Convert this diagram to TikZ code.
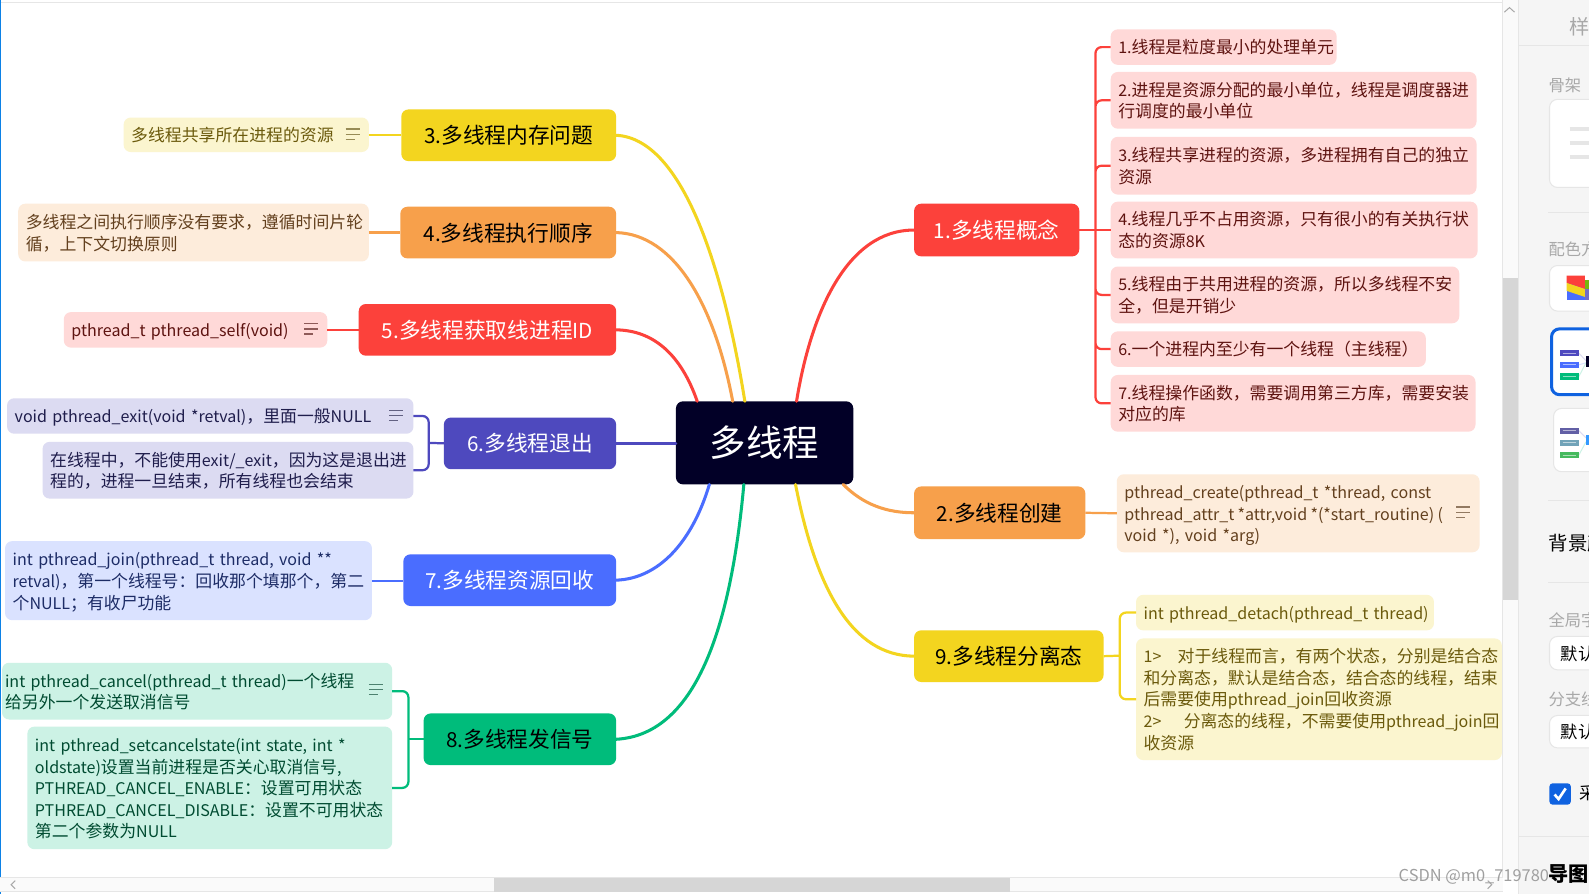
\documentclass[tikz,border=0pt]{standalone}
\usepackage{fontspec}
\setmainfont{Noto Sans CJK SC}
\newfontfamily\cjkf[Scale=1.05]{Noto Sans CJK SC}
% Chinese runs are set 5 percent larger than Latin runs, as in the reference
\XeTeXinterchartokenstate=1
\newXeTeXintercharclass\cjkclass
\newcount\cjkloop
\cjkloop="3000 \loop \XeTeXcharclass\cjkloop=\cjkclass \advance\cjkloop 1 \ifnum\cjkloop<"3040 \repeat
\cjkloop="4E00 \loop \XeTeXcharclass\cjkloop=\cjkclass \advance\cjkloop 1 \ifnum\cjkloop<"A000 \repeat
\cjkloop="FF00 \loop \XeTeXcharclass\cjkloop=\cjkclass \advance\cjkloop 1 \ifnum\cjkloop<"FF61 \repeat
\XeTeXinterchartoks 0 \cjkclass = {\cjkf}
\XeTeXinterchartoks \cjkclass 0 = {\rmfamily}
\XeTeXinterchartoks 4095 \cjkclass = {\cjkf}
\XeTeXinterchartoks 4095 0 = {\rmfamily}
\definecolor{rootc}{HTML}{020027}
\definecolor{redc}{HTML}{FC413B}
\definecolor{orac}{HTML}{F7A04B}
\definecolor{yelc}{HTML}{F3D51F}
\definecolor{purc}{HTML}{4E49BE}
\definecolor{bluc}{HTML}{4A6DFF}
\definecolor{grec}{HTML}{00BC7B}
\definecolor{redl}{HTML}{FFD9D8}
\definecolor{oral}{HTML}{FDECDB}
\definecolor{yell}{HTML}{FBF5CF}
\definecolor{purl}{HTML}{DCDBF2}
\definecolor{blul}{HTML}{DAE2FF}
\definecolor{grel}{HTML}{CCF2E5}
\definecolor{redt}{HTML}{5E1310}
\definecolor{orat}{HTML}{63401E}
\definecolor{yelt}{HTML}{6B5A0C}
\definecolor{purt}{HTML}{1F1D4C}
\definecolor{blut}{HTML}{1D2C66}
\definecolor{gret}{HTML}{004B31}
\definecolor{sideg}{HTML}{F5F5F5}
\definecolor{thumb}{HTML}{D6D6D6}
\definecolor{trackc}{HTML}{FAFAFA}
\definecolor{lineg}{HTML}{E6E6E6}
\definecolor{sidet}{HTML}{A8A8A8}
\definecolor{chkb}{HTML}{0F62E0}
\tikzset{
  anybox/.style={rounded corners=7pt,inner xsep=7.5pt,inner ysep=0pt,outer sep=0pt,align=left},
  leaf/.style={anybox,font=\fontsize{15.85}{21.3}\selectfont,
    execute at begin node={\rule{0pt}{17.3pt}},execute at end node={\rule[-4pt]{0pt}{4pt}}},
  head/.style={anybox,align=center,font=\fontsize{20.4}{26}\selectfont,
    execute at begin node={\rule{0pt}{21pt}},execute at end node={\rule[-4pt]{0pt}{4pt}}},
  rootbox/.style={anybox,align=center,fill=rootc,text=white,font=\fontsize{34.3}{40}\selectfont},
  conn/.style={line width=3pt,line cap=round},
  bracket/.style={line width=2.2pt,rounded corners=6pt},
  stub/.style={line width=2.2pt},
  sidelabel/.style={anchor=west,inner sep=0pt,text=sidet,font=\fontsize{15.3}{20}\selectfont},
  sidevalue/.style={anchor=west,inner sep=0pt,text=black,font=\fontsize{16.2}{20}\selectfont},
  sidecard/.style={fill=white,draw=lineg,line width=1pt,rounded corners=8pt},
}
\newcommand{\boxnode}[7][]{%
  \pgfmathsetmacro\bxc{(#3+#5)/2}%
  \pgfmathsetmacro\byc{(#4+#6)/2}%
  \pgfmathsetmacro\bxw{#5-#3}%
  \pgfmathsetmacro\bxh{#6-#4}%
  \pgfmathsetmacro\bxt{#5-#3-15}%
  \node[#1,minimum width=\bxw pt,minimum height=\bxh pt,text width=\bxt pt] (#2) at (\bxc,\byc) {#7};}
\newcommand{\noteicon}[3]{%
  \draw[#3,line width=1.4pt] (#1,#2) -- ++(14,0) (#1,#2+5) -- ++(14,0) (#1,#2+10) -- ++(9,0);}
\begin{document}
\begin{tikzpicture}[x=1pt,y=-1pt]
\useasboundingbox (0,0) rectangle (1568,882.1);
\clip (0,0) rectangle (1568,882.1);
\fill[white] (0,0) rectangle (1568,882.1);
% window chrome
\fill[lineg] (0,1.5) rectangle (1498,2.5);
\fill[chkb!80!cyan] (0,0) rectangle (1.1,882.1);
\fill[trackc] (1483,0) rectangle (1498,866);
\draw[lineg,line width=.8pt] (1483,0) -- (1483,866);
\fill[thumb] (1483,274) rectangle (1497.5,592);
\draw[sidet,line width=1pt] (1484.5,12) -- (1489.5,7.5) -- (1494.5,12);
\fill[trackc] (0,866) rectangle (1483,880);
\draw[lineg,line width=.8pt] (0,866) -- (1483,866) (0,880) -- (1483,880);
\fill[thumb] (487,866) rectangle (997,880);
\draw[sidet,line width=1pt] (15,869) -- (11,873) -- (15,877);
\draw[sidet,line width=1pt] (1468,869) -- (1472,873) -- (1468,877);
% side panel
\fill[sideg] (1498,0) rectangle (1568,882.1);
\draw[lineg,line width=.8pt] (1498,0) -- (1498,882.1);
\draw[lineg,line width=.8pt] (1498,45) -- (1568,45) (1528,210) -- (1568,210) (1528,494) -- (1568,494) (1528,575) -- (1568,575) (1498,825) -- (1568,825);
\node[sidelabel,font=\fontsize{19}{22}\selectfont] (styletab) at (1549,26) {样式};
\node[sidelabel] (skeleton) at (1528,84) {骨架};
\draw[sidecard] (1529,98) rectangle (1600,185);
\draw[lineg,line width=4pt] (1549,127) -- (1568,127) (1549,141) -- (1568,141) (1549,155) -- (1568,155);
\node[sidelabel] (palette) at (1528,246) {配色方案};
\draw[sidecard] (1529,262) rectangle (1600,307);
\fill[bluc] (1546,272) rectangle (1564,296);
\fill[yelc] (1546,279) -- (1564,285) -- (1564,293) -- (1546,287) -- cycle;
\fill[redc] (1546,272) -- (1564,272) -- (1564,285) -- (1546,279) -- cycle;
\fill[yelc!60!green!80!black] (1564,276) rectangle (1568,285);
\fill[purc!80!white] (1564,285) rectangle (1568,296);
\draw[fill=white,draw=chkb,line width=3pt,rounded corners=8pt] (1531,324.5) rectangle (1600,389.5);
\draw[purl,line width=1pt] (1558,348.5) -- (1565,356);
\draw[blul,line width=1pt] (1558,360) -- (1565,358);
\draw[grel,line width=1pt] (1558,371.5) -- (1565,358);
\fill[purc] (1539,345.5) rectangle (1558,351.5);
\fill[bluc] (1539,357) rectangle (1558,363);
\fill[grec] (1539,368.5) rectangle (1558,374.5);
\draw[white,opacity=.55,line width=1pt] (1542,348.5) -- (1555,348.5) (1542,360) -- (1555,360) (1542,371.5) -- (1555,371.5);
\fill[rootc] (1565,351) rectangle (1568,362);
\draw[sidecard] (1533,403) rectangle (1600,465.5);
\draw[purl,line width=1pt] (1558,425) -- (1565,432);
\draw[grel,line width=1pt] (1558,449) -- (1565,436);
\fill[purc!60!gray] (1539,422) rectangle (1558,428);
\fill[cyan!40!gray] (1539,434) rectangle (1558,440);
\fill[green!40!gray!90!cyan] (1539,446) rectangle (1558,452);
\draw[white,opacity=.55,line width=1pt] (1542,425) -- (1555,425) (1542,437) -- (1555,437) (1542,449) -- (1555,449);
\fill[bluc!70!cyan] (1565,429) rectangle (1568,439);
\node[sidevalue,font=\fontsize{18.2}{22}\selectfont] (bgtitle) at (1528,536) {背景颜色};
\node[sidelabel] (fontlabel) at (1528,612) {全局字体};
\draw[sidecard] (1529,628) rectangle (1600,661);
\node[sidevalue] (fontval) at (1540,645) {默认};
\node[sidelabel] (linelabel) at (1528,690) {分支线};
\draw[sidecard] (1529,706) rectangle (1600,738);
\node[sidevalue] (lineval) at (1540,722) {默认};
\fill[chkb,rounded corners=3pt] (1529,773) rectangle (1550,794);
\draw[white,line width=2.6pt] (1534,784) -- (1538,788.5) -- (1545,778);
\node[sidevalue] (rainbow) at (1558,783) {采用};
\node[sidevalue,font=\fontsize{19}{22}\bfseries\selectfont] (maptitle) at (1528,862) {导图};
% central node
\boxnode[rootbox]{root}{667}{396}{842}{478}{多线程}
% main branches
\boxnode[head,fill=redc,text=white]{n1}{902}{201}{1065}{253}{1.多线程概念}
\boxnode[head,fill=orac,text=black]{n2}{902}{480}{1071}{532}{2.多线程创建}
\boxnode[head,fill=yelc,text=black]{n3}{396}{108}{608}{159}{3.多线程内存问题}
\boxnode[head,fill=orac,text=black]{n4}{395}{204}{608}{255}{4.多线程执行顺序}
\boxnode[head,fill=redc,text=white]{n5}{354}{300}{608}{351}{5.多线程获取线进程ID}
\boxnode[head,fill=purc,text=white]{n6}{438}{412}{608}{463}{6.多线程退出}
\boxnode[head,fill=bluc,text=white]{n7}{398}{547}{608}{598}{7.多线程资源回收}
\boxnode[head,fill=grec,text=black]{n8}{418}{704}{608}{755}{8.多线程发信号}
\boxnode[head,fill=yelc,text=black]{n9}{902}{622}{1089}{673}{9.多线程分离态}
% leaves, right
\boxnode[leaf,fill=redl,text=redt]{a1}{1096}{29}{1319}{64}{1.线程是粒度最小的处理单元}
\boxnode[leaf,fill=redl,text=redt]{a2}{1096}{71}{1457}{127}{2.进程是资源分配的最小单位，线程是调度器进\\行调度的最小单位}
\boxnode[leaf,fill=redl,text=redt]{a3}{1096}{135}{1457}{192}{3.线程共享进程的资源，多进程拥有自己的独立\\资源}
\boxnode[leaf,fill=redl,text=redt]{a4}{1096}{199}{1458}{255}{4.线程几乎不占用资源，只有很小的有关执行状\\态的资源8K}
\boxnode[leaf,fill=redl,text=redt]{a5}{1096}{263}{1440}{319}{5.线程由于共用进程的资源，所以多线程不安\\全，但是开销少}
\boxnode[leaf,fill=redl,text=redt]{a6}{1096}{327}{1407}{362}{6.一个进程内至少有一个线程（主线程）}
\boxnode[leaf,fill=redl,text=redt]{a7}{1096}{370}{1456}{426}{7.线程操作函数，需要调用第三方库，需要安装\\对应的库}
\boxnode[leaf,fill=oral,text=orat]{b1}{1102}{468}{1460}{545}{pthread\_create(pthread\_t *thread, const\\pthread\_attr\_t~\hspace{-2pt}*attr,void~\hspace{-2pt}*(*start\_routine)~\hspace{-2pt}(\\void *), void *arg)}
\boxnode[leaf,fill=yell,text=yelt]{i1}{1121}{587}{1415}{622}{int~pthread\_detach(pthread\_t~thread)}
\boxnode[leaf,fill=yell,text=yelt]{i2}{1121}{630}{1482}{750}{1>\hspace{16pt}对于线程而言，有两个状态，分别是结合态\\和分离态，默认是结合态，结合态的线程，结束\\后需要使用pthread\_join回收资源\\2>\hspace{22pt}分离态的线程，不需要使用pthread\_join回\\收资源}
% leaves, left
\boxnode[leaf,fill=yell,text=yelt]{c1}{122}{116}{364}{150}{多线程共享所在进程的资源}
\boxnode[leaf,fill=oral,text=orat]{d1}{18}{201}{364}{258}{多线程之间执行顺序没有要求，遵循时间片轮\\循，上下文切换原则}
\boxnode[leaf,fill=redl,text=redt]{e1}{63}{308}{323}{343}{pthread\_t pthread\_self(void)}
\boxnode[leaf,fill=purl,text=purt]{f1}{7}{393}{408}{428}{void pthread\_exit(void *retval)，里面一般NULL}
\boxnode[leaf,fill=purl,text=purt]{f2}{42}{436}{408}{492}{在线程中，不能使用exit/\_exit，因为这是退出进\\程的，进程一旦结束，所有线程也会结束}
\boxnode[leaf,fill=blul,text=blut]{g1}{5}{534}{367}{612}{int pthread\_join(pthread\_t thread, void **\\retval)，第一个线程号：回收那个填那个，第二\\个NULL；有收尸功能}
\boxnode[leaf,fill=grel,text=gret]{h1}{2}{654}{387}{710}{\hspace*{-4.5pt}int pthread\_cancel(pthread\_t thread)一个线程\\\hspace*{-4.5pt}给另外一个发送取消信号}
\boxnode[leaf,fill=grel,text=gret]{h2}{27}{717}{387}{838}{int pthread\_setcancelstate(int state, int *\\oldstate)设置当前进程是否关心取消信号,\\PTHREAD\_CANCEL\_ENABLE：设置可用状态\\PTHREAD\_CANCEL\_DISABLE：设置不可用状态\\第二个参数为NULL}
% note icons
\noteicon{341}{127.5}{yelt!70!white}
\noteicon{300}{319.5}{redt!70!white}
\noteicon{384}{405}{purt!70!white}
\noteicon{364}{675.5}{gret!70!white}
\noteicon{1437}{500.5}{orat!70!white}
% root connection points
\coordinate (r1) at (786,396);
\coordinate (r2) at (832,478);
\coordinate (r3) at (735,396);
\coordinate (r4) at (723,396);
\coordinate (r5) at (688,396);
\coordinate (r7) at (700,478);
\coordinate (r8) at (734,478);
\coordinate (r9) at (785,478);
% curved branches
\draw[conn,redc] (r1) .. controls (800,310) and (835,227) .. (n1.west);
\draw[conn,orac] (r2) .. controls (852,498) and (875,506) .. (n2.west);
\draw[conn,yelc] (n3.east) .. controls (680,137) and (718,290) .. (r3);
\draw[conn,orac] (n4.east) .. controls (665,231) and (705,300) .. (r4);
\draw[conn,redc] (n5.east) .. controls (645,326) and (672,350) .. (r5);
\draw[conn,purc] (n6.east) -- (n6.east -| root.west);
\draw[conn,bluc] (n7.east) .. controls (650,571) and (683,535) .. (r7);
\draw[conn,grec] (n8.east) .. controls (690,725) and (722,610) .. (r8);
\draw[conn,yelc] (r9) .. controls (805,580) and (840,647) .. (n9.west);
% leaf connectors
\coordinate (busa) at (1081,227);
\coordinate (busi) at (1105,647);
\coordinate (busf) at (423,437);
\coordinate (bush) at (403,729.5);
\draw[redc,stub] (n1.east) -- (a4.west);
\draw[redc,bracket] (a1.west) -| (busa) (a2.west) -| (busa) (a3.west) -| (busa) (a5.west) -| (busa) (a6.west) -| (busa) (a7.west) -| (busa);
\draw[orac,stub] (n2.east) -- (b1.west);
\draw[yelc,stub] (n9.east) -- (busi);
\draw[yelc,bracket] (i1.west) -| (busi) (i2.west) -| (busi);
\draw[yelc,stub] (c1.east) -- (c1.east -| n3.west);
\draw[orac,stub] (d1.east) -- (d1.east -| n4.west);
\draw[redc,stub] (e1.east) -- (e1.east -| n5.west);
\draw[purc,stub] (n6.west) -- (busf);
\draw[purc,bracket] (f1.east) -| (busf) (f2.east) -| (busf);
\draw[bluc,stub] (g1.east) -- (g1.east -| n7.west);
\draw[grec,stub] (n8.west) -- (bush);
\draw[grec,bracket] (h1.east) -| (bush) (h2.east) -| (bush);
% watermark
\node[anchor=west,inner sep=0pt,text=gray!75,font=\fontsize{16.2}{20}\selectfont] (mark) at (1380,865) {CSDN @m0\_719780};
\end{tikzpicture}
\end{document}
